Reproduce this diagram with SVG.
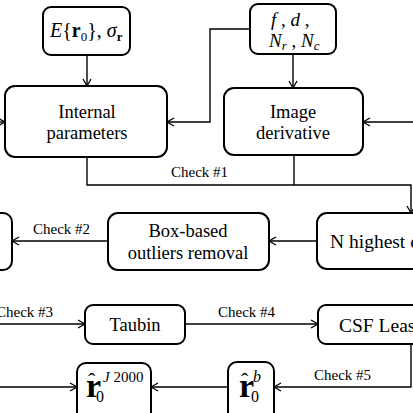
<svg xmlns="http://www.w3.org/2000/svg" width="413" height="413" viewBox="0 0 413 413">
<style>
.box{fill:#fff;stroke:#000;stroke-width:2}
.ln{fill:none;stroke:#000;stroke-width:1.4}
.t{font-family:"Liberation Serif",serif;font-size:18.5px;fill:#000;text-anchor:middle}
.lb{font-family:"Liberation Serif",serif;font-size:15px;fill:#000}
.m{font-family:"Liberation Serif",serif;fill:#000}
</style>
<defs>
<marker id="ar" markerUnits="userSpaceOnUse" markerWidth="12" markerHeight="12" refX="8" refY="5" orient="auto">
<polyline points="1,1 8,5 1,9" fill="none" stroke="#000" stroke-width="1.3"/>
</marker>
</defs>
<rect width="413" height="413" fill="#fff"/>
<g id="connectors">
<line class="ln" x1="87" y1="55" x2="87" y2="86" marker-end="url(#ar)"/>
<line class="ln" x1="293" y1="54" x2="293" y2="88" marker-end="url(#ar)"/>
<polyline class="ln" points="250,29 210,29 210,122 167,122" marker-end="url(#ar)"/>
<line class="ln" x1="-5" y1="122" x2="5" y2="122" marker-end="url(#ar)"/>
<line class="ln" x1="418" y1="122" x2="363" y2="122" marker-end="url(#ar)"/>
<polyline class="ln" points="87,157 87,185 411,185 411,213" marker-end="url(#ar)"/>
<line class="ln" x1="294" y1="155" x2="294" y2="185"/>
<line class="ln" x1="317" y1="241" x2="269" y2="241" marker-end="url(#ar)"/>
<line class="ln" x1="108" y1="241" x2="12" y2="241" marker-end="url(#ar)"/>
<line class="ln" x1="-5" y1="324" x2="85" y2="324" marker-end="url(#ar)"/>
<line class="ln" x1="185" y1="324" x2="318" y2="324" marker-end="url(#ar)"/>
<polyline class="ln" points="411,344 411,387 274,387" marker-end="url(#ar)"/>
<line class="ln" x1="228" y1="387" x2="151" y2="387" marker-end="url(#ar)"/>
<line class="ln" x1="-5" y1="387" x2="77" y2="387" marker-end="url(#ar)"/>
<text class="lb" x="171" y="177">Check #1</text>
<text class="lb" x="33" y="234">Check #2</text>
<text class="lb" x="-4" y="317">Check #3</text>
<text class="lb" x="218" y="317">Check #4</text>
<text class="lb" x="314" y="380">Check #5</text>
</g>
<g id="mean">
<rect class="box" x="43" y="7" width="87" height="48" rx="8"/>
<text class="m" x="50" y="37" font-size="20"><tspan font-style="italic">E</tspan>{<tspan font-weight="bold">r</tspan><tspan font-size="13" dy="4">0</tspan><tspan dy="-4">},</tspan> <tspan font-style="italic">σ</tspan><tspan font-weight="bold" font-size="13" dy="4">r</tspan></text>
</g>
<g id="camera">
<rect class="box" x="250" y="4" width="86" height="50" rx="8"/>
<text class="m" x="271" y="26" font-size="19"><tspan font-style="italic">f</tspan> , <tspan font-style="italic">d</tspan> ,</text>
<text class="m" x="269" y="47" font-size="19"><tspan font-style="italic">N</tspan><tspan font-style="italic" font-size="13" dy="3">r</tspan><tspan dy="-3"> , </tspan><tspan font-style="italic">N</tspan><tspan font-style="italic" font-size="13" dy="3">c</tspan></text>
</g>
<g id="internal">
<rect class="box" x="5" y="86" width="162" height="71" rx="10"/>
<text class="t" x="87" y="118">Internal</text>
<text class="t" x="87" y="139">parameters</text>
</g>
<g id="imgderiv">
<rect class="box" x="224" y="88" width="139" height="67" rx="10"/>
<text class="t" x="293" y="118">Image</text>
<text class="t" x="293" y="139">derivative</text>
</g>
<g id="leftbox">
<rect class="box" x="-20" y="213" width="32" height="57" rx="9"/>
</g>
<g id="boxbased">
<rect class="box" x="108" y="213" width="161" height="57" rx="10"/>
<text class="t" x="188" y="237">Box-based</text>
<text class="t" x="188" y="259">outliers removal</text>
</g>
<g id="nhighest">
<rect class="box" x="317" y="213" width="120" height="56" rx="10"/>
<text class="t" x="330" y="248" style="text-anchor:start;font-size:19.5px">N highest c</text>
</g>
<g id="taubin">
<rect class="box" x="85" y="305" width="100" height="39" rx="8"/>
<text class="t" x="135" y="331">Taubin</text>
</g>
<g id="csf">
<rect class="box" x="318" y="305" width="120" height="39" rx="8"/>
<text class="t" x="339" y="332" style="text-anchor:start;font-size:19.5px">CSF Leas</text>
</g>
<g id="rj2000">
<rect class="box" x="77" y="363" width="74" height="60" rx="9"/>
<text class="m" x="86" y="397" font-size="34" font-weight="bold">r<tspan font-size="22" font-weight="normal" dx="-13.1" dy="-9">ˆ</tspan><tspan font-size="16" font-weight="normal" dx="0.7" dy="14">0</tspan><tspan font-size="15" font-weight="normal" dx="-1" dy="-20"><tspan font-style="italic">J</tspan> 2000</tspan></text>
</g>
<g id="rb">
<rect class="box" x="228" y="362" width="46" height="60" rx="9"/>
<text class="m" x="239" y="397" font-size="34" font-weight="bold">r<tspan font-size="22" font-weight="normal" dx="-13.1" dy="-9">ˆ</tspan><tspan font-size="16" font-weight="normal" dx="2.7" dy="14">0</tspan><tspan font-size="16" font-weight="normal" font-style="italic" dx="-6" dy="-20">b</tspan></text>
</g>
</svg>
